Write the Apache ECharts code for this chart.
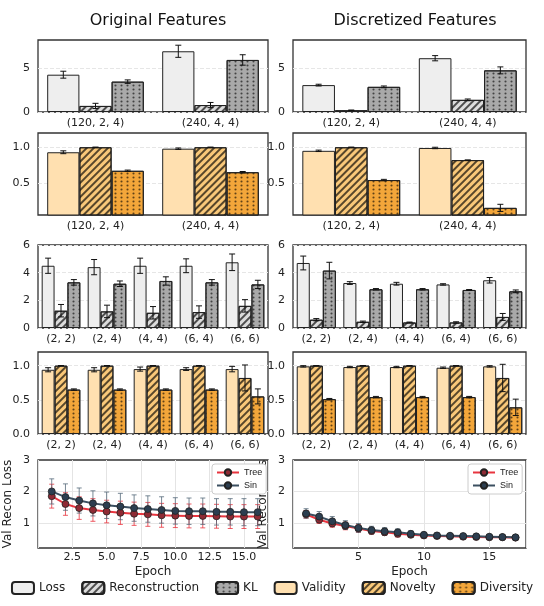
<!DOCTYPE html><html><head><meta charset="utf-8">
<script src="https://cdn.jsdelivr.net/npm/echarts@6/dist/echarts.min.js"></script>
<style>html,body{margin:0;background:#fff}#c{width:544px;height:606px}</style></head><body><div id="c"></div>
<script>
const catsA=['(120, 2, 4)','(240, 4, 4)'];
const catsB=['(2, 2)','(2, 4)','(4, 4)','(6, 4)','(6, 6)'];
const r1L={Loss:[4.3,7.0],Reconstruction:[0.7,0.8],KL:[3.5,6.0]}, r1Le={Loss:[0.4,0.7],Reconstruction:[0.3,0.3],KL:[0.2,0.6]};
const r1R={Loss:[3.1,6.2],Reconstruction:[0.2,1.4],KL:[2.9,4.8]}, r1Re={Loss:[0.1,0.3],Reconstruction:[0.03,0.1],KL:[0.1,0.4]};
const r2L={Validity:[0.93,0.98],Novelty:[1.0,1.0],Diversity:[0.67,0.65]}, r2Le={Validity:[0.02,0.01],Novelty:[0,0],Diversity:[0.01,0.01]};
const r2R={Validity:[0.95,0.99],Novelty:[1.0,0.82],Diversity:[0.54,0.15]}, r2Re={Validity:[0.01,0.01],Novelty:[0,0],Diversity:[0.01,0.05]};
const r3L={Loss:[4.5,4.4,4.5,4.5,4.75],Reconstruction:[1.25,1.2,1.1,1.15,1.6],KL:[3.3,3.2,3.4,3.3,3.15]};
const r3Le={Loss:[0.55,0.55,0.55,0.5,0.6],Reconstruction:[0.45,0.45,0.45,0.45,0.45],KL:[0.2,0.2,0.3,0.2,0.3]};
const r3R={Loss:[4.7,3.25,3.2,3.15,3.45],Reconstruction:[0.6,0.45,0.4,0.4,0.8],KL:[4.15,2.8,2.8,2.75,2.65]};
const r3Re={Loss:[0.5,0.1,0.1,0.05,0.2],Reconstruction:[0.08,0.05,0.03,0.05,0.25],KL:[0.6,0.05,0.05,0.03,0.1]};
const r4L={Validity:[0.94,0.94,0.95,0.95,0.95],Novelty:[1,1,1,1,0.82],Diversity:[0.65,0.65,0.65,0.65,0.55]};
const r4Le={Validity:[0.03,0.03,0.03,0.02,0.04],Novelty:[0,0,0,0,0.19],Diversity:[0.01,0.01,0.01,0.01,0.11]};
const r4R={Validity:[0.99,0.98,0.98,0.97,0.99],Novelty:[1,1,1,1,0.82],Diversity:[0.51,0.54,0.54,0.54,0.39]};
const r4Re={Validity:[0.01,0.01,0.01,0.01,0.01],Novelty:[0,0,0,0,0.2],Diversity:[0.01,0.01,0.01,0.01,0.12]};
const epL=[1,2,3,4,5,6,7,8,9,10,11,12,13,14,15,16];
const treeL=[1.85,1.6,1.47,1.41,1.36,1.32,1.29,1.27,1.24,1.23,1.22,1.22,1.21,1.2,1.2,1.2];
const treeLe=[0.38,0.36,0.36,0.36,0.36,0.37,0.37,0.38,0.38,0.38,0.38,0.38,0.38,0.38,0.38,0.38];
const sinL=[2.0,1.82,1.71,1.62,1.56,1.52,1.47,1.44,1.41,1.38,1.37,1.37,1.35,1.35,1.34,1.34];
const sinLe=[0.4,0.42,0.4,0.4,0.42,0.42,0.42,0.42,0.42,0.42,0.42,0.42,0.42,0.42,0.43,0.43];
const epR=[1,2,3,4,5,6,7,8,9,10,11,12,13,14,15,16,17];
const treeR=[1.27,1.1,0.98,0.9,0.82,0.74,0.7,0.65,0.62,0.6,0.58,0.57,0.56,0.55,0.54,0.54,0.53];
const treeRe=[0.12,0.12,0.12,0.12,0.12,0.1,0.1,0.1,0.08,0.08,0.07,0.07,0.07,0.06,0.06,0.06,0.05];
const sinR=[1.3,1.2,1.05,0.93,0.84,0.77,0.73,0.7,0.65,0.62,0.6,0.59,0.58,0.57,0.56,0.55,0.54];
const sinRe=[0.15,0.16,0.15,0.14,0.14,0.12,0.12,0.11,0.1,0.08,0.08,0.07,0.07,0.07,0.06,0.06,0.05];

const hatch={symbol:'rect',symbolSize:1,dashArrayX:[1,0],dashArrayY:[1.2,3],rotation:-Math.PI/4,color:'rgba(0,0,0,0.65)'};
const dots={symbol:'circle',symbolSize:0.7,dashArrayX:[[2.5,2.5]],dashArrayY:[2.5,1],color:'rgba(0,0,0,0.6)'};
const sty={Loss:['#eeeeee',null],Reconstruction:['#dcdcdc',hatch],KL:['#a9a9a9',dots],
  Validity:['#ffe0b0',null],Novelty:['#f9c879',hatch],Diversity:['#f3a63a',dots]};

const cols=[{left:38,width:230},{left:293,width:233}];
const rows=[{top:40,height:72},{top:133,height:82},{top:245,height:83},{top:352,height:82},{top:460,height:88}];
const grid=[],xAxis=[],yAxis=[],series=[];
const axLab={color:'#222',fontSize:11,fontFamily:'DejaVu Sans'};
function gl(vals,dashed){return {silent:true,symbol:'none',label:{show:false},animation:false,z:0,
  lineStyle:{color:'#e6e6e6',type:dashed?'dashed':'solid',width:1},data:vals.map(v=>({yAxis:v}))};}
function addGrid(r,c){grid.push({left:cols[c].left,width:cols[c].width,top:rows[r].top,height:rows[r].height,show:true,borderColor:'#333',borderWidth:1.3,backgroundColor:'transparent'});return grid.length-1;}
function barPanel(r,c,cats,vals,errs,ymin,ymax,intv,labs,fix){
  const g=addGrid(r,c);
  xAxis.push({type:'category',gridIndex:g,data:cats,axisTick:{show:false},axisLine:{show:false},axisLabel:Object.assign({margin:6},axLab)});
  yAxis.push({type:'value',gridIndex:g,min:ymin,max:ymax,interval:intv,axisLine:{show:false},axisTick:{show:false},
    axisLabel:Object.assign({formatter:v=>{const s=labs.find(l=>Math.abs(l-v)<1e-6);return s===undefined?'':(fix?s.toFixed(1):String(s));}},axLab),
    splitLine:{show:false}});
  const names=Object.keys(vals);
  names.forEach((n,k)=>{
    const s={type:'bar',name:n,xAxisIndex:g,yAxisIndex:g,data:vals[n],barWidth:'28%',barGap:'0%',
      itemStyle:{color:sty[n][0],borderColor:'#222',borderWidth:1,decal:sty[n][1]||undefined}};
    if(k===0) s.markLine=gl(labs,true);
    series.push(s);
  });
  names.forEach((n,k)=>{
    const off=(k-1)*0.28;
    series.push({type:'custom',xAxisIndex:g,yAxisIndex:g,z:10,data:vals[n].map((v,i)=>[i,v,errs[n][i]]),
      renderItem:(p,api)=>{const i=api.value(0),v=api.value(1),e=api.value(2);const bw=api.size([1,0])[0];
        const lo=api.coord([i,Math.max(v-e,ymin)]),hi=api.coord([i,Math.min(v+e,ymax)]);const x=lo[0]+off*bw;
        const ls={stroke:'#111',lineWidth:1};
        return {type:'group',children:[{type:'line',shape:{x1:x,y1:lo[1],x2:x,y2:hi[1]},style:ls},
          {type:'line',shape:{x1:x-3,y1:lo[1],x2:x+3,y2:lo[1]},style:ls},{type:'line',shape:{x1:x-3,y1:hi[1],x2:x+3,y2:hi[1]},style:ls}]};}});
  });
}
function linePanel(c,ep,tr,tre,sn,sne,xmin,xmax,xint){
  const g=addGrid(4,c);
  xAxis.push({type:'value',gridIndex:g,min:xmin,max:xmax,interval:xint,name:'Epoch',nameLocation:'middle',nameGap:18,nameTextStyle:{fontSize:12,color:'#222',fontFamily:'DejaVu Sans'},
    axisLine:{show:false},axisTick:{show:false},axisLabel:Object.assign({showMinLabel:false,showMaxLabel:false,margin:4,formatter:v=>xint===2.5?v.toFixed(1):String(v)},axLab),
    splitLine:{show:true,lineStyle:{color:'#e4e4e4'}}});
  yAxis.push({type:'value',gridIndex:g,min:0.2,max:3,interval:0.1,name:'Val Recon Loss',nameLocation:'middle',nameGap:24,nameTextStyle:{fontSize:12,color:'#222',fontFamily:'DejaVu Sans'},
    axisLine:{show:false},axisTick:{show:false},axisLabel:Object.assign({showMaxLabel:true,formatter:v=>[1,2,3].some(t=>Math.abs(t-v)<1e-6)?String(Math.round(v)):''},axLab),
    splitLine:{show:false}});
  const set=[['Tree',tr,tre,'#e8353f','#8e2a34','#e8353f'],['Sin',sn,sne,'#3b4f60','#2c3e50','#566a7a']];
  set.forEach(([n,d,e,lc,mc,ec],k)=>{
    const s={type:'line',name:n,xAxisIndex:g,yAxisIndex:g,data:ep.map((x,i)=>[x,d[i]]),symbol:'circle',symbolSize:7,
      lineStyle:{color:lc,width:2},itemStyle:{color:mc,borderColor:'#222',borderWidth:0.8},z:5};
    if(k===0) s.markLine=gl([1,2],false);
    series.push(s);
    series.push({type:'custom',xAxisIndex:g,yAxisIndex:g,z:4,data:ep.map((x,i)=>[x,d[i],e[i]]),
      renderItem:(p,api)=>{const x=api.value(0),v=api.value(1),er=api.value(2);const lo=api.coord([x,v-er]),hi=api.coord([x,v+er]);
        const ls={stroke:ec,lineWidth:1,opacity:0.8};
        return {type:'group',children:[{type:'line',shape:{x1:lo[0],y1:lo[1],x2:hi[0],y2:hi[1]},style:ls},
          {type:'line',shape:{x1:lo[0]-2.5,y1:lo[1],x2:lo[0]+2.5,y2:lo[1]},style:ls},{type:'line',shape:{x1:hi[0]-2.5,y1:hi[1],x2:hi[0]+2.5,y2:hi[1]},style:ls}]};}});
  });
}
barPanel(0,0,catsA,r1L,r1Le,0,8.3,5,[0,5],false);
barPanel(0,1,catsA,r1R,r1Re,0,8.3,5,[0,5],false);
barPanel(1,0,catsA,r2L,r2Le,0.05,1.2,0.05,[0.5,1.0],true);
barPanel(1,1,catsA,r2R,r2Re,0.05,1.2,0.05,[0.5,1.0],true);
barPanel(2,0,catsB,r3L,r3Le,0,6,2,[0,2,4,6],false);
barPanel(2,1,catsB,r3R,r3Re,0,6,2,[0,2,4,6],false);
barPanel(3,0,catsB,r4L,r4Le,0,1.2,0.5,[0,0.5,1.0],true);
barPanel(3,1,catsB,r4R,r4Re,0,1.2,0.5,[0,0.5,1.0],true);
linePanel(0,epL,treeL,treeLe,sinL,sinLe,0,16.75,2.5);
linePanel(1,epR,treeR,treeRe,sinR,sinRe,0,17.8,5);
const legText={fontSize:12,color:'#222',fontFamily:'DejaVu Sans'};
const opt={animation:false,
 title:[{text:'Original Features',left:153,top:8,textAlign:'center',textStyle:{fontSize:16,fontWeight:'normal',color:'#111',fontFamily:'DejaVu Sans'}},
        {text:'Discretized Features',left:410,top:8,textAlign:'center',textStyle:{fontSize:16,fontWeight:'normal',color:'#111',fontFamily:'DejaVu Sans'}}],
 grid,xAxis,yAxis,series,
 legend:[{data:['Loss','Reconstruction','KL','Validity','Novelty','Diversity'],bottom:6,left:'center',itemWidth:22,itemHeight:12,itemGap:16,textStyle:legText},
  {data:['Tree','Sin'],left:212,top:464,orient:'vertical',itemWidth:22,itemHeight:8,itemGap:4,textStyle:{fontSize:9,color:'#222'},backgroundColor:'#fff',borderColor:'#ccc',borderWidth:1,padding:4,borderRadius:3},
  {data:['Tree','Sin'],left:468,top:464,orient:'vertical',itemWidth:22,itemHeight:8,itemGap:4,textStyle:{fontSize:9,color:'#222'},backgroundColor:'#fff',borderColor:'#ccc',borderWidth:1,padding:4,borderRadius:3}]
};
echarts.init(document.getElementById('c')).setOption(opt);
</script></body></html>
